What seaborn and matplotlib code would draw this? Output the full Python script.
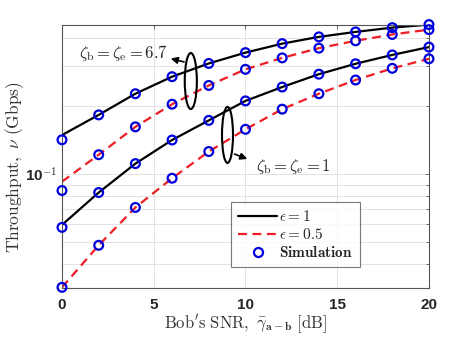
import numpy as np
import pandas as pd
import seaborn as sns
import matplotlib
matplotlib.use("Agg")
import matplotlib.pyplot as plt
from matplotlib.patches import Ellipse
from matplotlib.lines import Line2D
from matplotlib.ticker import LogLocator, FixedLocator, FixedFormatter, NullFormatter

# ---- data ----
snr = [0, 2, 4, 6, 8, 10, 12, 14, 16, 18, 20]
# simulation (circles)
sim_67_e1 = [0.142, 0.183, 0.227, 0.270, 0.309, 0.345, 0.378, 0.405, 0.426, 0.445, 0.459]
sim_67_e05 = [0.0847, 0.122, 0.162, 0.204, 0.247, 0.291, 0.327, 0.361, 0.389, 0.415, 0.436]
sim_1_e1 = [0.0582, 0.083, 0.1114, 0.1417, 0.173, 0.211, 0.243, 0.277, 0.308, 0.337, 0.365]
sim_1_e05 = [0.0316, 0.0485, 0.0713, 0.096, 0.126, 0.158, 0.194, 0.227, 0.261, 0.294, 0.324]
# analytical (lines)
ana_67_e1 = [0.149, 0.183, 0.227, 0.270, 0.309, 0.345, 0.378, 0.405, 0.426, 0.445, 0.459]
ana_67_e05 = [0.0927, 0.122, 0.162, 0.204, 0.247, 0.291, 0.327, 0.361, 0.389, 0.415, 0.436]
ana_1_e1 = [0.0597, 0.083, 0.1114, 0.1417, 0.173, 0.211, 0.243, 0.277, 0.308, 0.337, 0.365]
ana_1_e05 = [0.0316, 0.0485, 0.0713, 0.096, 0.126, 0.158, 0.194, 0.227, 0.261, 0.294, 0.324]

legend_labels = [r"$\epsilon = 1$", r"$\epsilon = 0.5$", r"$\mathbf{Simulation}$"]
xticks = [0, 5, 10, 15, 20]

sns.set_style("white")
plt.rcParams["mathtext.fontset"] = "cm"
plt.rcParams["font.family"] = ["DejaVu Sans"]

fig = plt.figure(figsize=(4.74, 3.38), dpi=100)
ax = fig.add_axes([0.1308, 0.148, 0.7742, 0.778])

ana = pd.DataFrame({
    "snr": snr * 4,
    "val": ana_67_e1 + ana_67_e05 + ana_1_e1 + ana_1_e05,
    "curve": ["a"] * 11 + ["b"] * 11 + ["c"] * 11 + ["d"] * 11,
})
sim = pd.DataFrame({
    "snr": snr * 4,
    "val": sim_67_e1 + sim_67_e05 + sim_1_e1 + sim_1_e05,
})

for cid, color, ls in [("a", "black", "-"), ("b", "#ee1c25", "--"),
                       ("c", "black", "-"), ("d", "#ee1c25", "--")]:
    d = ana[ana["curve"] == cid]
    sns.lineplot(data=d, x="snr", y="val", ax=ax, color=color,
                 linestyle=ls, linewidth=1.6, legend=False)
for line in ax.lines:
    if line.get_color() == "#ee1c25":
        line.set_dashes([4, 2.5])

sns.scatterplot(data=sim, x="snr", y="val", ax=ax, marker="o", s=40,
                facecolor="none", edgecolor="#0000dd", linewidth=1.6,
                legend=False, clip_on=False, zorder=5)

ax.set_yscale("log")
ax.set_xlim(0, 20)
ax.set_ylim(0.0314, 0.457)

ax.xaxis.set_major_locator(FixedLocator(xticks))
ax.set_xticklabels([str(t) for t in xticks], fontsize=11, fontweight="bold",
                   family=["Liberation Sans"])
ax.yaxis.set_major_locator(FixedLocator([0.1]))
ax.yaxis.set_major_formatter(FixedFormatter([r"10$^{\mathbf{-1}}$"]))
ax.yaxis.set_minor_locator(LogLocator(base=10, subs=np.arange(2, 10)))
ax.yaxis.set_minor_formatter(NullFormatter())
for lab in ax.get_yticklabels():
    lab.set_fontsize(11)
    lab.set_fontweight("bold")
    lab.set_family(["Liberation Sans"])

ax.tick_params(which="both", direction="in", top=True, right=True,
               color="#555555", length=3, width=0.6)
ax.tick_params(axis="x", which="major", pad=7)
ax.tick_params(which="minor", length=2)
ax.grid(True, which="both", color="#dddddd", linewidth=0.6, linestyle="-")
for s in ax.spines.values():
    s.set_color("#555555")
    s.set_linewidth(0.8)

ax.set_xlabel(r"$\mathrm{Bob's\ SNR,}\ \bar{\gamma}_{\mathbf{a-b}}\ [\mathrm{dB}]$",
              fontsize=12, color="#333333", labelpad=1)
ax.set_ylabel(r"$\mathrm{Throughput},\ \nu\ \mathrm{(Gbps)}$",
              fontsize=12.5, color="#333333")
ax.yaxis.set_label_coords(-0.098, 0.46)

# annotations
ax.add_patch(Ellipse((0.351, 0.787), 0.033, 0.213, transform=ax.transAxes,
                     fill=False, edgecolor="black", linewidth=1.5, zorder=6))
ax.add_patch(Ellipse((0.451, 0.582), 0.030, 0.213, transform=ax.transAxes,
                     fill=False, edgecolor="black", linewidth=1.5, zorder=6))
ax.annotate("", xy=(0.289, 0.875), xytext=(0.34, 0.857), xycoords="axes fraction",
            arrowprops=dict(arrowstyle="-|>", color="black", lw=1.2,
                            mutation_scale=10))
ax.annotate("", xy=(0.512, 0.487), xytext=(0.463, 0.513), xycoords="axes fraction",
            arrowprops=dict(arrowstyle="-|>", color="black", lw=1.2,
                            mutation_scale=10))
ax.text(0.045, 0.893, r"$\zeta_{\mathrm{b}} = \zeta_{\mathrm{e}} = 6.7$",
        transform=ax.transAxes, fontsize=12, va="center", ha="left")
ax.text(0.53, 0.462, r"$\zeta_{\mathrm{b}} = \zeta_{\mathrm{e}} = 1$",
        transform=ax.transAxes, fontsize=12, va="center", ha="left")

handles = [
    Line2D([0], [0], color="black", linewidth=1.6),
    Line2D([0], [0], color="#ee1c25", linewidth=1.6, dashes=[4, 2.5]),
    Line2D([0], [0], linestyle="none", marker="o", markersize=6.5,
           markerfacecolor="none", markeredgecolor="#0000dd", markeredgewidth=1.6),
]
leg = ax.legend(handles, legend_labels, loc="upper left",
                bbox_to_anchor=(0.460, 0.327), borderaxespad=0, fontsize=11,
                frameon=True, fancybox=False, edgecolor="#555555",
                handlelength=2.6, handletextpad=0.1, borderpad=0.45,
                labelspacing=0.2)
leg.get_frame().set_linewidth(0.8)

fig.savefig("out.png", dpi=100)
